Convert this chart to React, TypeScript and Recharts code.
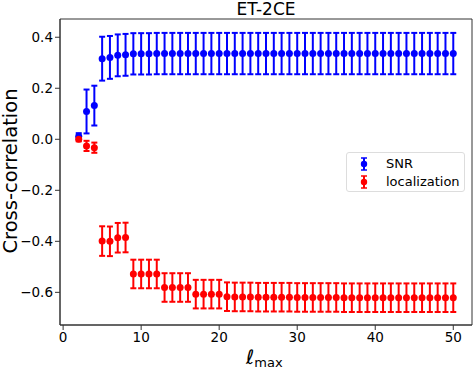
import React from 'react'
import { ScatterChart, Scatter, XAxis, YAxis, ErrorBar, ReferenceArea } from 'recharts'

const lmax = [
  2, 3, 4, 5, 6, 7, 8, 9, 10, 11, 12, 13, 14, 15, 16, 17, 18, 19, 20, 21, 22, 23, 24, 25, 26,
  27, 28, 29, 30, 31, 32, 33, 34, 35, 36, 37, 38, 39, 40, 41, 42, 43, 44, 45, 46, 47, 48, 49, 50,
]

const snr = [
  0.012, 0.109, 0.132, 0.316, 0.321, 0.329, 0.331, 0.335, 0.335, 0.335, 0.336, 0.336, 0.336,
  0.336, 0.336, 0.336, 0.336, 0.336, 0.336, 0.336, 0.336, 0.336, 0.336, 0.336, 0.336, 0.336,
  0.336, 0.336, 0.336, 0.336, 0.336, 0.336, 0.336, 0.336, 0.336, 0.336, 0.336, 0.336, 0.336,
  0.336, 0.336, 0.336, 0.336, 0.336, 0.336, 0.336, 0.336, 0.336, 0.336,
]
const snrErr = [
  0.012, 0.086, 0.078, 0.086, 0.084, 0.082, 0.082, 0.081, 0.081, 0.081, 0.081, 0.081, 0.081,
  0.081, 0.081, 0.081, 0.081, 0.081, 0.081, 0.081, 0.081, 0.081, 0.081, 0.081, 0.081, 0.081,
  0.081, 0.081, 0.081, 0.081, 0.081, 0.081, 0.081, 0.081, 0.081, 0.081, 0.081, 0.081, 0.081,
  0.081, 0.081, 0.081, 0.081, 0.081, 0.081, 0.081, 0.081, 0.081, 0.081,
]

const loc = [
  0.0, -0.026, -0.033, -0.399, -0.4, -0.386, -0.385, -0.528, -0.528, -0.528, -0.528, -0.581,
  -0.581, -0.581, -0.581, -0.607, -0.607, -0.607, -0.607, -0.617, -0.618, -0.618, -0.618,
  -0.619, -0.619, -0.619, -0.619, -0.619, -0.62, -0.62, -0.62, -0.62, -0.62, -0.62, -0.621,
  -0.621, -0.621, -0.621, -0.621, -0.621, -0.621, -0.621, -0.621, -0.621, -0.621, -0.621,
  -0.621, -0.621, -0.621,
]
const locErr = [
  0.008, 0.02, 0.02, 0.058, 0.058, 0.058, 0.058, 0.056, 0.056, 0.056, 0.056, 0.056, 0.056,
  0.056, 0.056, 0.056, 0.056, 0.056, 0.056, 0.056, 0.056, 0.056, 0.056, 0.056, 0.056, 0.056,
  0.056, 0.056, 0.056, 0.056, 0.056, 0.056, 0.056, 0.056, 0.056, 0.056, 0.056, 0.056, 0.056,
  0.056, 0.056, 0.056, 0.056, 0.056, 0.056, 0.056, 0.056, 0.056, 0.056,
]

const xTicks = [0, 10, 20, 30, 40, 50]
const yTicks = [-0.6, -0.4, -0.2, 0, 0.2, 0.4]

const snrData = lmax.map((l, i) => ({ x: l, y: snr[i], err: snrErr[i] }))
const locData = lmax.map((l, i) => ({ x: l, y: loc[i], err: locErr[i] }))

const BLUE = '#0000ff'
const RED = '#ff0000'
const FONT = '"DejaVu Sans", sans-serif'

const dot = (color: string) => (props: any) => (
  <circle cx={props.cx} cy={props.cy} r={3.5} fill={color} />
)

const fmt = (v: number) => v.toFixed(1).replace('-', '\u2212')

function LegendMark({ color }: { color: string }) {
  return (
    <svg width={10} height={16} style={{ display: 'block' }}>
      <line x1={5} y1={2} x2={5} y2={14} stroke={color} strokeWidth={2} />
      <line x1={2} y1={2} x2={8} y2={2} stroke={color} strokeWidth={1.5} />
      <line x1={2} y1={14} x2={8} y2={14} stroke={color} strokeWidth={1.5} />
      <circle cx={5} cy={8} r={3.2} fill={color} />
    </svg>
  )
}

export default function App() {
  return (
    <div style={{ position: 'relative', width: 474, height: 369, fontFamily: FONT }}>
      <style>{`body{margin:0}`}</style>
      <ScatterChart width={474} height={369} margin={{ top: 19, right: 2, bottom: 0, left: 0 }}>
        <XAxis
          type="number"
          dataKey="x"
          domain={[-0.4, 52.4]}
          ticks={xTicks}
          allowDataOverflow
          height={44}
          tickSize={5}
          tickMargin={2}
          stroke="#333"
          tick={{ fill: '#000', fontSize: 13.5, fontFamily: FONT }}
        />
        <YAxis
          type="number"
          dataKey="y"
          domain={[-0.728, 0.4715]}
          ticks={yTicks}
          allowDataOverflow
          width={60}
          tickSize={5}
          tickMargin={2}
          stroke="#333"
          tickFormatter={fmt}
          tick={{ fill: '#000', fontSize: 13.5, fontFamily: FONT }}
        />
        <ReferenceArea x1={-0.4} x2={52.4} y1={-0.728} y2={0.4715} fill="none" stroke="#333" strokeWidth={1} />
        <Scatter data={snrData} fill={BLUE} shape={dot(BLUE)} isAnimationActive={false}>
          <ErrorBar dataKey="err" direction="y" width={3} stroke={BLUE} strokeWidth={2} />
        </Scatter>
        <Scatter data={locData} fill={RED} shape={dot(RED)} isAnimationActive={false}>
          <ErrorBar dataKey="err" direction="y" width={3} stroke={RED} strokeWidth={2} />
        </Scatter>
      </ScatterChart>

      <svg width={474} height={369} style={{ position: 'absolute', left: 0, top: 0, pointerEvents: 'none' }}>
        <text x={266} y={15} textAnchor="middle" fontSize={17} fontFamily={FONT} fill="#000">
          ET-2CE
        </text>
        <text
          transform="translate(17,171) rotate(-90)"
          textAnchor="middle"
          fontSize={19.5}
          fontFamily={FONT}
          fill="#000"
        >
          Cross-correlation
        </text>
        <text x={246} y={364} fontFamily={FONT} fill="#000">
          <tspan fontSize={20} fontStyle="italic">ℓ</tspan>
          <tspan fontSize={13} dy={3}>max</tspan>
        </text>
      </svg>

      <div
        style={{
          position: 'absolute',
          left: 346,
          top: 152,
          width: 119,
          height: 40,
          border: '1px solid #ddd',
          borderRadius: 3,
          background: '#fff',
          fontSize: 13,
          color: '#000',
          boxSizing: 'border-box',
        }}
      >
        {[
          { name: 'SNR', color: BLUE },
          { name: 'localization', color: RED },
        ].map((e, i) => (
          <div key={e.name} style={{ position: 'absolute', left: 12, top: 3 + i * 18, display: 'flex', alignItems: 'center' }}>
            <LegendMark color={e.color} />
            <span style={{ marginLeft: 17, lineHeight: '16px' }}>{e.name}</span>
          </div>
        ))}
      </div>
    </div>
  )
}
